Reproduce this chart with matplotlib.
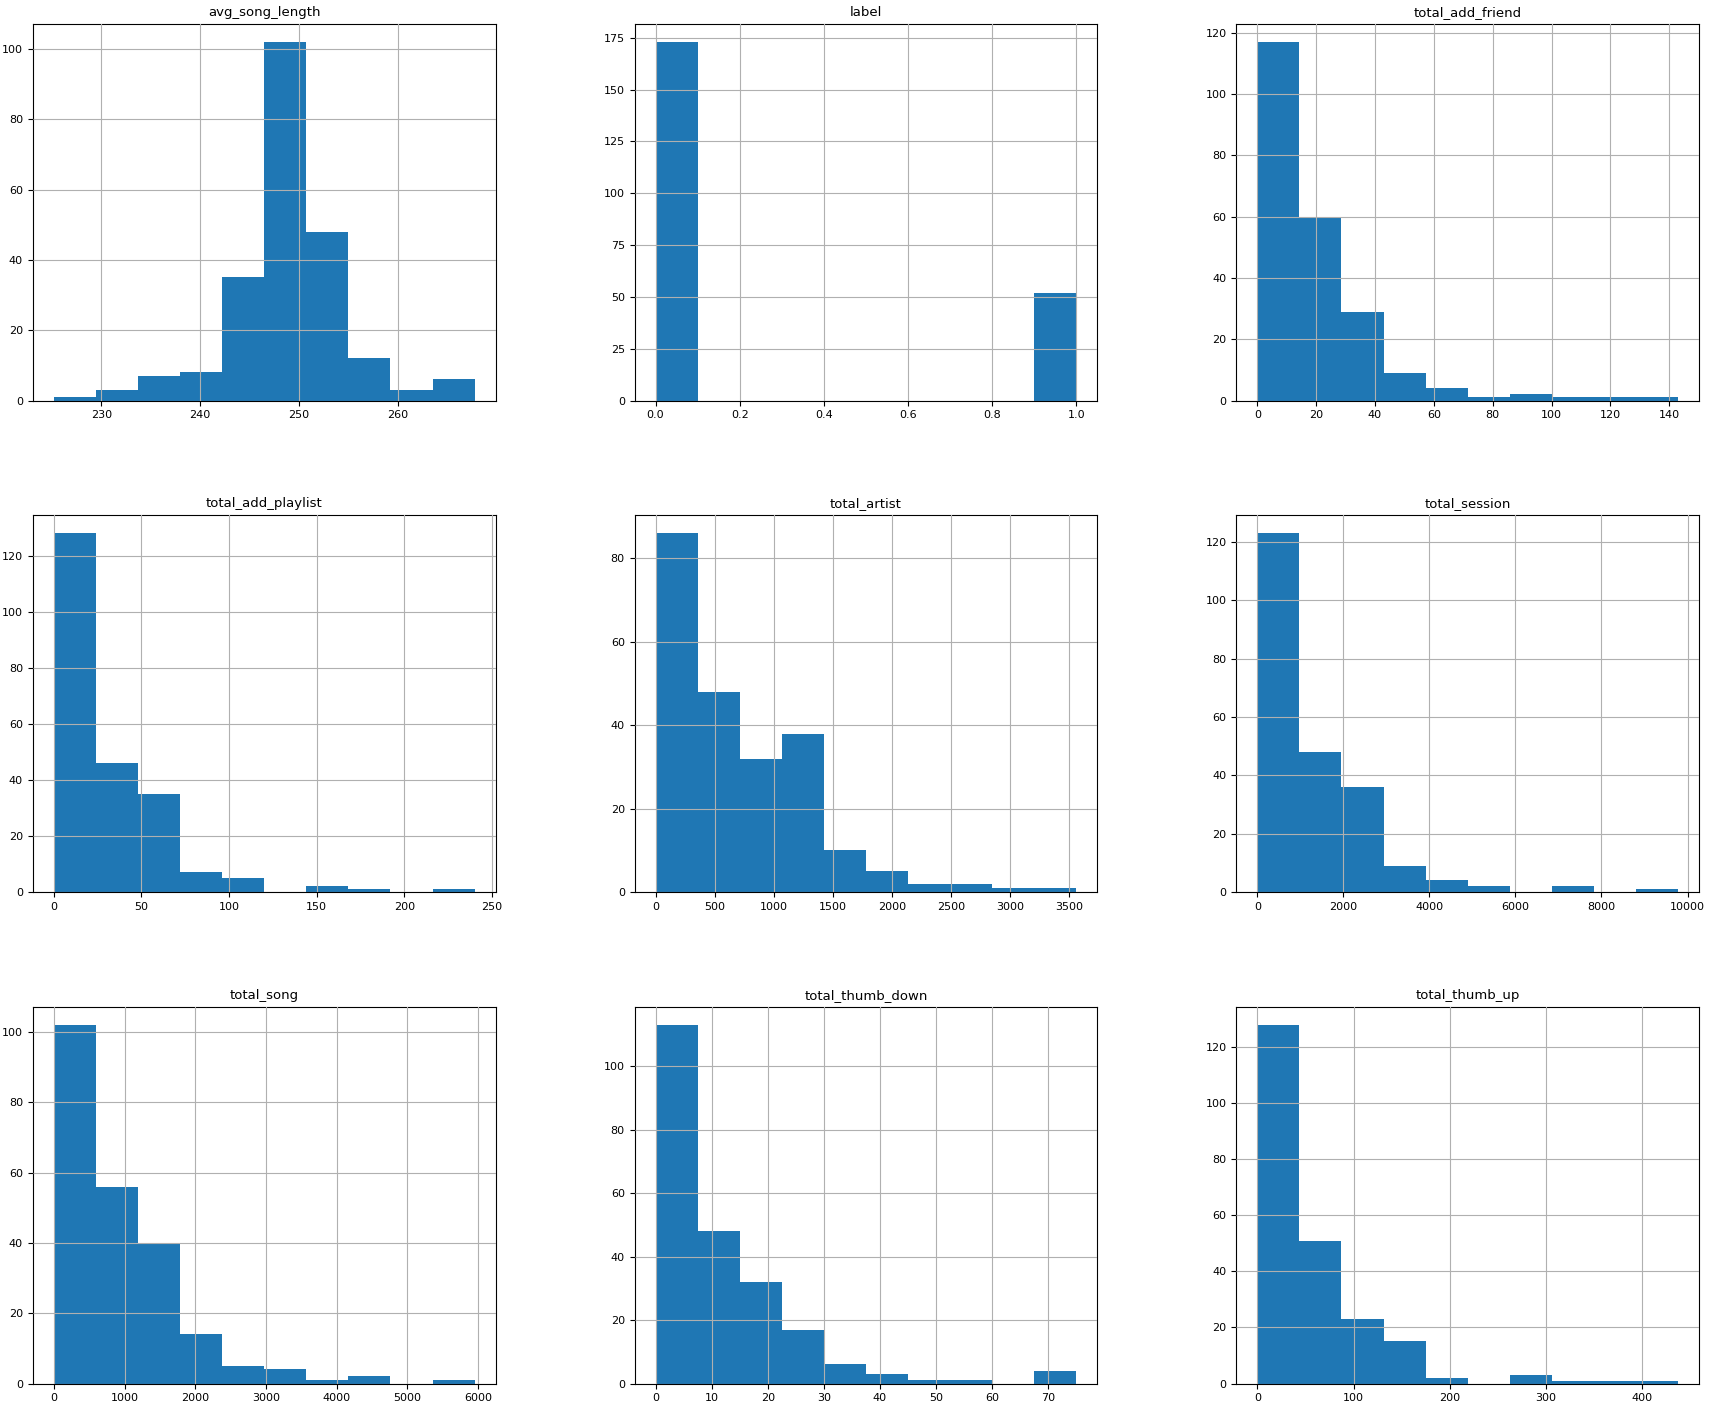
import numpy as np
import matplotlib.pyplot as plt

# column names, value ranges and per-bin counts (10 bins each)
columns = ['avg_song_length', 'label', 'total_add_friend',
           'total_add_playlist', 'total_artist', 'total_session',
           'total_song', 'total_thumb_down', 'total_thumb_up']
ranges = [(225.2, 267.8), (0, 1), (0, 143),
          (0, 240), (0, 3560), (0, 9780),
          (0, 5950), (0, 75), (0, 437)]
counts = [
    [1, 3, 7, 8, 35, 102, 48, 12, 3, 6],
    [173, 0, 0, 0, 0, 0, 0, 0, 0, 52],
    [117, 60, 29, 9, 4, 1, 2, 1, 1, 1],
    [128, 46, 35, 7, 5, 0, 2, 1, 0, 1],
    [86, 48, 32, 38, 10, 5, 2, 2, 1, 1],
    [123, 48, 36, 9, 4, 2, 0, 2, 0, 1],
    [102, 56, 40, 14, 5, 4, 1, 2, 0, 1],
    [113, 48, 32, 17, 6, 3, 1, 1, 0, 4],
    [128, 51, 23, 15, 2, 0, 3, 1, 1, 1],
]

plt.rcParams['font.size'] = 8
fig, axes = plt.subplots(3, 3, figsize=(17.25, 14.06), dpi=100)
fig.subplots_adjust(left=0.019, right=0.985, top=0.983, bottom=0.016,
                    wspace=0.30, hspace=0.305)

for ax, name, (lo, hi), cnt in zip(axes.flat, columns, ranges, counts):
    edges = np.linspace(lo, hi, len(cnt) + 1)
    ax.hist(edges[:-1], bins=edges, weights=cnt, color='#1f77b4')
    ax.set_title(name, fontsize=9.5)
    ax.grid(True)
    ax.set_axisbelow(False)

fig.savefig('out.png', dpi=100)
